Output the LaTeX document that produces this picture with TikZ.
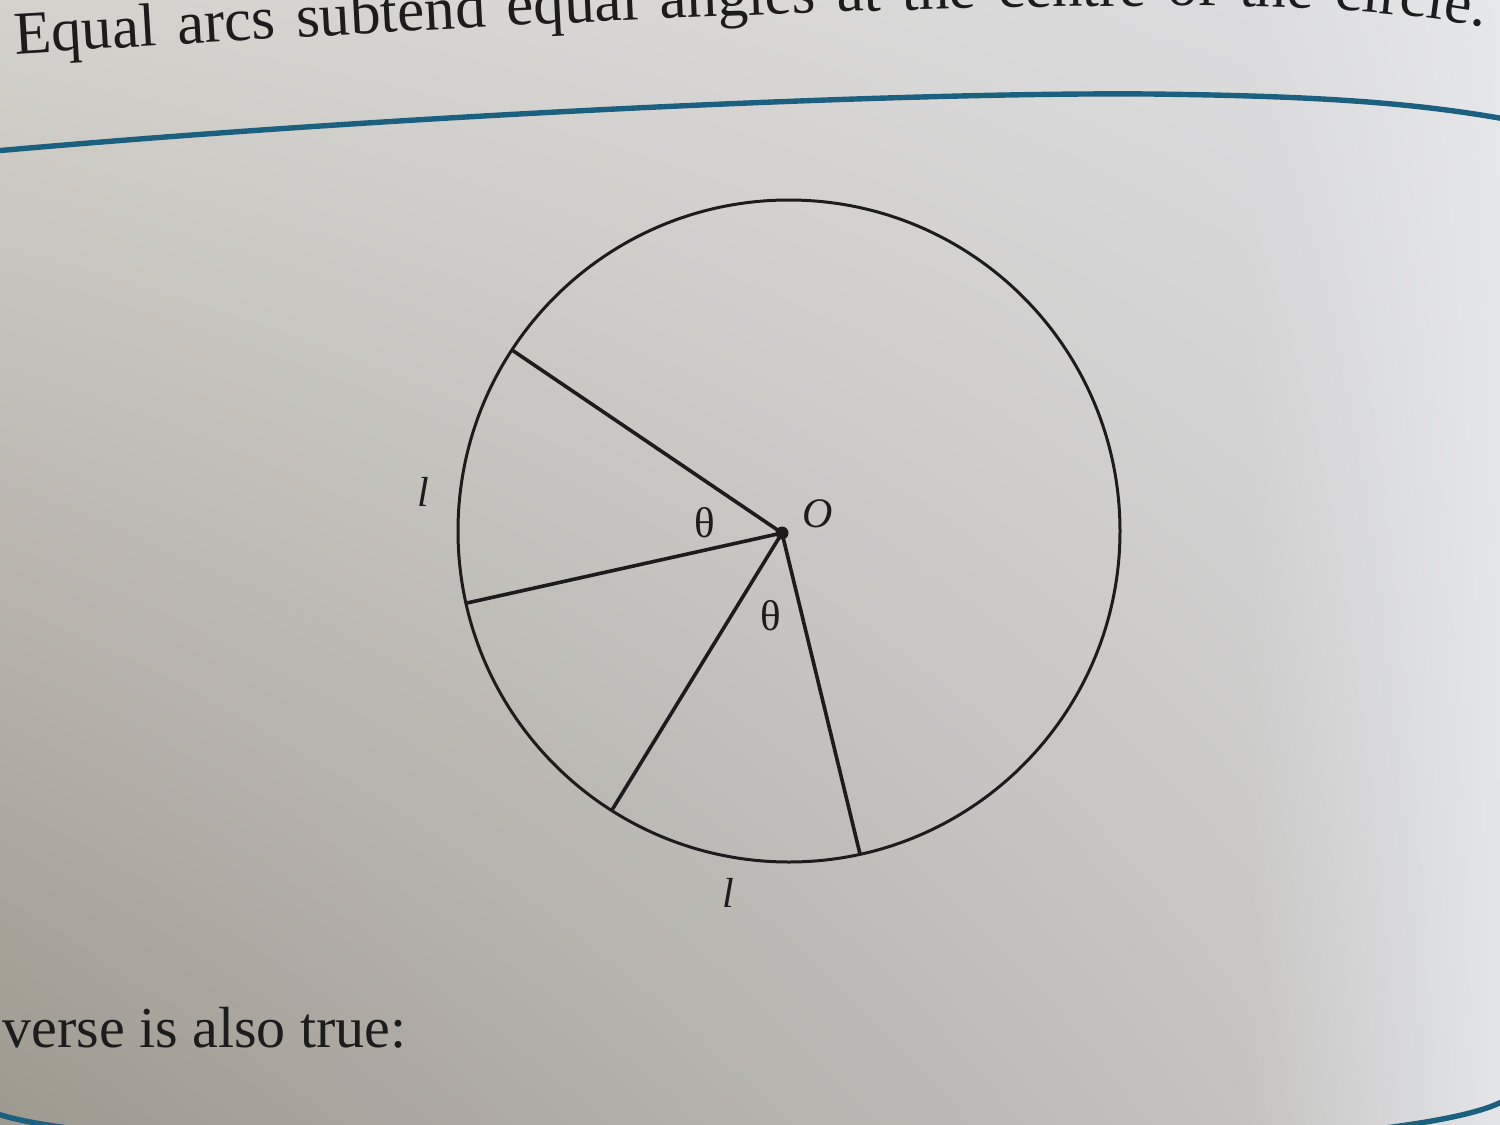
\documentclass[tikz,border=0pt]{standalone}
\usepackage{fontspec}
\setmainfont{Liberation Serif}
\usetikzlibrary{decorations.text,shadings}
\definecolor{bgUL}{RGB}{212,210,204}
\definecolor{bgUM}{RGB}{220,220,222}
\definecolor{bgUR}{RGB}{230,231,234}
\definecolor{bgLL}{RGB}{158,153,143}
\definecolor{bgLM}{RGB}{196,195,193}
\definecolor{bgLR}{RGB}{228,229,233}
\definecolor{ruleblue}{RGB}{28,96,128}
\definecolor{ink}{RGB}{28,28,28}
\tikzset{
  radiusline/.style={ink, line width=1.8pt},
  rimline/.style={ink, line width=1.5pt},
  rulerline/.style={ruleblue, line width=2.7pt, line cap=round},
  mathlabel/.style={ink, inner sep=0pt, font=\fontsize{21pt}{24pt}\selectfont},
  thetalabel/.style={ink, inner sep=0pt, font=\fontsize{21.5pt}{24pt}\selectfont},
  pagetext/.style={ink, inner sep=0pt, anchor=base west, font=\fontsize{29pt}{34pt}\selectfont}
}
\begin{document}
\begin{tikzpicture}[x=0.5pt,y=-0.5pt]
\useasboundingbox (0,0) rectangle (1500,1125);
\clip (0,0) rectangle (1500,1125);
% paper background
\shade[upper left=bgUL, upper right=bgUM, lower left=bgLL, lower right=bgLM] (0,0) rectangle (1251,1125);
\shade[upper left=bgUM, upper right=bgUR, lower left=bgLM, lower right=bgLR] (1250,0) rectangle (1500,1125);
% page text (curved by the page)
\path[decorate, decoration={text along path, text align={fit to path stretching spaces},
  text={|\fontsize{30.5pt}{36pt}\selectfont\color{ink}|Equal arcs subtend equal angles at the centre of the circle.}}]
  (15,54) .. controls (500,25) and (800,8) .. (1150,6) .. controls (1330,5) and (1420,15) .. (1484,27);
% blue rules
\coordinate (r1a) at (-5,151);
\coordinate (r1b) at (1150,94);
\coordinate (r1c) at (1505,119);
\draw[rulerline] (r1a) .. controls (400,115) and (900,92) .. (r1b) .. controls (1330,96) and (1420,104) .. (r1c);
\coordinate (r2a) at (-5,1113);
\coordinate (r2b) at (1505,1100);
\draw[rulerline] (r2a) .. controls (150,1170) and (1380,1175) .. (r2b);
% the circle
\coordinate (C) at (789,531);
\coordinate (O) at (782,533);
\draw[rimline] (C) circle[radius=331];
\coordinate (P1) at (512,350);
\coordinate (P2) at (467,603);
\coordinate (P3) at (612,810);
\coordinate (P4) at (860,854);
\draw[radiusline] (O) -- (P1);
\draw[radiusline] (O) -- (P2);
\draw[radiusline] (O) -- (P3);
\draw[radiusline] (O) -- (P4);
\fill[ink] (O) circle[radius=6.5];
% labels
\node[mathlabel] (lO) at (818,514) {\textit{O}};
\node[mathlabel] (l1) at (423,492) {\textit{l}};
\node[mathlabel] (l2) at (728,893) {\textit{l}};
\node[thetalabel] (t1) at (705,523) {θ};
\node[thetalabel] (t2) at (771,616) {θ};
\node[pagetext] (conv) at (2,1047) {verse is also true:};
\end{tikzpicture}
\end{document}
